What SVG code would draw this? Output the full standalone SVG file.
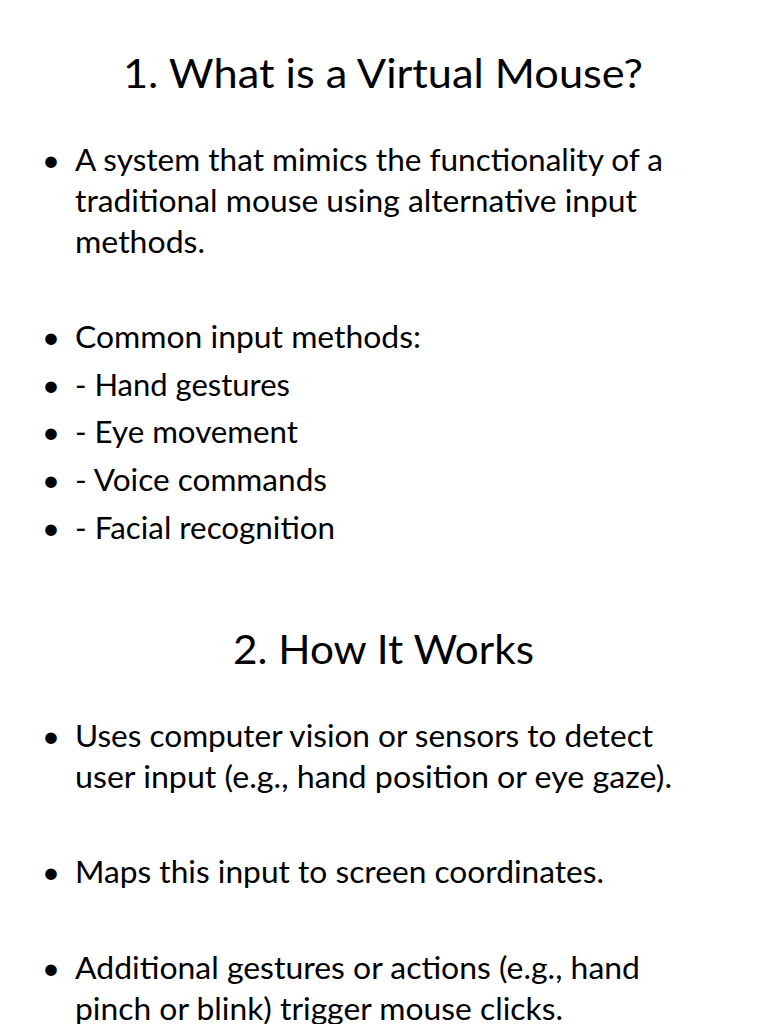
<svg xmlns="http://www.w3.org/2000/svg" width="768" height="1024" viewBox="0 0 768 1024">
<style>
.t{font-family:Lato,"Open Sans",sans-serif;font-size:41px;fill:#000}
.b{font-family:Lato,"Open Sans",sans-serif;font-size:31px;fill:#000}
</style>
<rect width="768" height="1024" fill="#fff"/>
<g id="title1"><text class="t" x="123" y="88" textLength="520" lengthAdjust="spacingAndGlyphs">1. What is a Virtual Mouse?</text></g>
<g id="list1" class="b">
<text x="42" y="171">•</text><text x="75" y="171" textLength="588" lengthAdjust="spacingAndGlyphs">A system that mimics the functionality of a</text>
<text x="75" y="212" textLength="562" lengthAdjust="spacingAndGlyphs">traditional mouse using alternative input</text>
<text x="75" y="253" textLength="130" lengthAdjust="spacingAndGlyphs">methods.</text>
<text x="42" y="348">•</text><text x="75" y="348" textLength="346" lengthAdjust="spacingAndGlyphs">Common input methods:</text>
<text x="42" y="396">•</text><text x="75" y="396" textLength="215" lengthAdjust="spacingAndGlyphs">- Hand gestures</text>
<text x="42" y="443">•</text><text x="75" y="443" textLength="223" lengthAdjust="spacingAndGlyphs">- Eye movement</text>
<text x="42" y="491">•</text><text x="75" y="491" textLength="252" lengthAdjust="spacingAndGlyphs">- Voice commands</text>
<text x="42" y="539">•</text><text x="75" y="539" textLength="260" lengthAdjust="spacingAndGlyphs">- Facial recognition</text>
</g>
<g id="title2"><text class="t" x="233" y="664" textLength="301" lengthAdjust="spacingAndGlyphs">2. How It Works</text></g>
<g id="list2" class="b">
<text x="42" y="747">•</text><text x="75" y="747" textLength="578" lengthAdjust="spacingAndGlyphs">Uses computer vision or sensors to detect</text>
<text x="75" y="788" textLength="597" lengthAdjust="spacingAndGlyphs">user input (e.g., hand position or eye gaze).</text>
<text x="42" y="883">•</text><text x="75" y="883" textLength="529" lengthAdjust="spacingAndGlyphs">Maps this input to screen coordinates.</text>
<text x="42" y="979">•</text><text x="75" y="979" textLength="565" lengthAdjust="spacingAndGlyphs">Additional gestures or actions (e.g., hand</text>
<text x="75" y="1020" textLength="488" lengthAdjust="spacingAndGlyphs">pinch or blink) trigger mouse clicks.</text>
</g>
</svg>
